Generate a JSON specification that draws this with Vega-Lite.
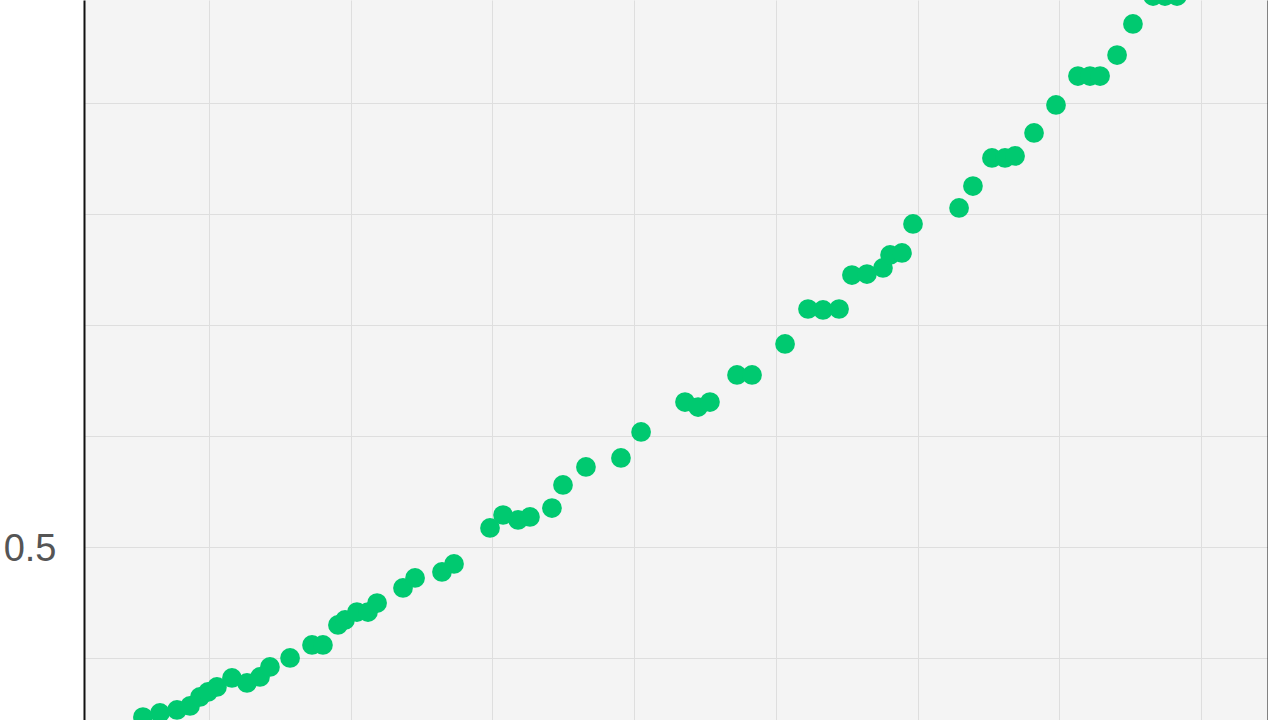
{
  "$schema": "https://vega.github.io/schema/vega-lite/v6.json",
  "autosize": {"type": "none"},
  "padding": {"left": 84, "top": 0, "right": 0, "bottom": 0},
  "width": 1184,
  "height": 720,
  "background": "white",
  "config": {"view": {"fill": "#f4f4f4", "stroke": null}},
  "data": {"values": [
    {"x": 5.34, "y": 0.3468}, {"x": 6.54, "y": 0.3505}, {"x": 7.74, "y": 0.3532}, {"x": 8.66, "y": 0.3568},
    {"x": 9.36, "y": 0.3649}, {"x": 9.93, "y": 0.3694}, {"x": 10.56, "y": 0.3739}, {"x": 11.62, "y": 0.382},
    {"x": 12.68, "y": 0.3775}, {"x": 13.6, "y": 0.3829}, {"x": 14.3, "y": 0.3919}, {"x": 15.72, "y": 0.4},
    {"x": 17.27, "y": 0.4117}, {"x": 18.04, "y": 0.4117}, {"x": 19.1, "y": 0.4297}, {"x": 19.6, "y": 0.4342},
    {"x": 20.44, "y": 0.4414}, {"x": 21.22, "y": 0.4414}, {"x": 21.86, "y": 0.4495}, {"x": 23.69, "y": 0.4631},
    {"x": 24.54, "y": 0.4721}, {"x": 26.44, "y": 0.4775}, {"x": 27.29, "y": 0.4847}, {"x": 29.83, "y": 0.5171},
    {"x": 30.75, "y": 0.5288}, {"x": 31.81, "y": 0.5243}, {"x": 32.65, "y": 0.527}, {"x": 34.2, "y": 0.5351},
    {"x": 34.98, "y": 0.5559}, {"x": 36.6, "y": 0.5721}, {"x": 39.07, "y": 0.5802}, {"x": 40.49, "y": 0.6036},
    {"x": 43.59, "y": 0.6306}, {"x": 44.51, "y": 0.6261}, {"x": 45.35, "y": 0.6306}, {"x": 47.26, "y": 0.655},
    {"x": 48.32, "y": 0.655}, {"x": 50.65, "y": 0.6829}, {"x": 52.27, "y": 0.7144}, {"x": 53.33, "y": 0.7135},
    {"x": 54.46, "y": 0.7144}, {"x": 55.37, "y": 0.745}, {"x": 56.43, "y": 0.7459}, {"x": 57.56, "y": 0.7514},
    {"x": 58.06, "y": 0.7631}, {"x": 58.9, "y": 0.7649}, {"x": 59.68, "y": 0.791}, {"x": 62.93, "y": 0.8054},
    {"x": 63.91, "y": 0.8252}, {"x": 65.25, "y": 0.8505}, {"x": 66.17, "y": 0.8505}, {"x": 66.88, "y": 0.8523},
    {"x": 68.22, "y": 0.873}, {"x": 69.77, "y": 0.8982}, {"x": 71.32, "y": 0.9243}, {"x": 72.17, "y": 0.9243},
    {"x": 72.88, "y": 0.9243}, {"x": 74.08, "y": 0.9432}, {"x": 75.2, "y": 0.9712}, {"x": 76.62, "y": 0.9964},
    {"x": 77.46, "y": 0.9964}, {"x": 78.31, "y": 0.9964}
  ]},
  "layer": [
    {
      "mark": {"type": "point", "filled": true, "shape": "circle", "size": 390, "opacity": 1, "color": "#00c970", "clip": true},
      "encoding": {
        "x": {"field": "x", "type": "quantitative",
          "scale": {"domain": [1.179, 84.73], "nice": false, "zero": false},
          "axis": {"title": null, "labels": false, "ticks": false, "domain": false, "grid": true,
            "values": [10, 20, 30, 40, 50, 60, 70, 80], "gridColor": "#dedede", "gridWidth": 1}},
        "y": {"field": "y", "type": "quantitative",
          "scale": {"domain": [0.3441, 0.9928], "nice": false, "zero": false},
          "axis": {"title": null, "orient": "left", "ticks": false, "domain": true, "domainColor": "#111111", "domainWidth": 2,
            "grid": true, "gridColor": "#dedede", "gridWidth": 1,
            "values": [0.4, 0.5, 0.6, 0.7, 0.8, 0.9],
            "labelExpr": "datum.value == 0.5 ? '0.5' : ''",
            "labelFont": "Liberation Sans", "labelFontSize": 38, "labelColor": "#555555", "labelPadding": 28,
            "labelBaseline": "middle", "labelOffset": 3}}
      }
    },
    {
      "mark": {"type": "point", "filled": true, "opacity": 0, "clip": true},
      "encoding": {
        "x": {"field": "x", "type": "quantitative"},
        "y": {"field": "y", "type": "quantitative",
          "axis": {"title": null, "orient": "right", "labels": false, "ticks": false, "grid": false,
            "domain": true, "domainColor": "#111111", "domainWidth": 2}}
      }
    }
  ],
  "resolve": {"axis": {"y": "independent"}}
}
